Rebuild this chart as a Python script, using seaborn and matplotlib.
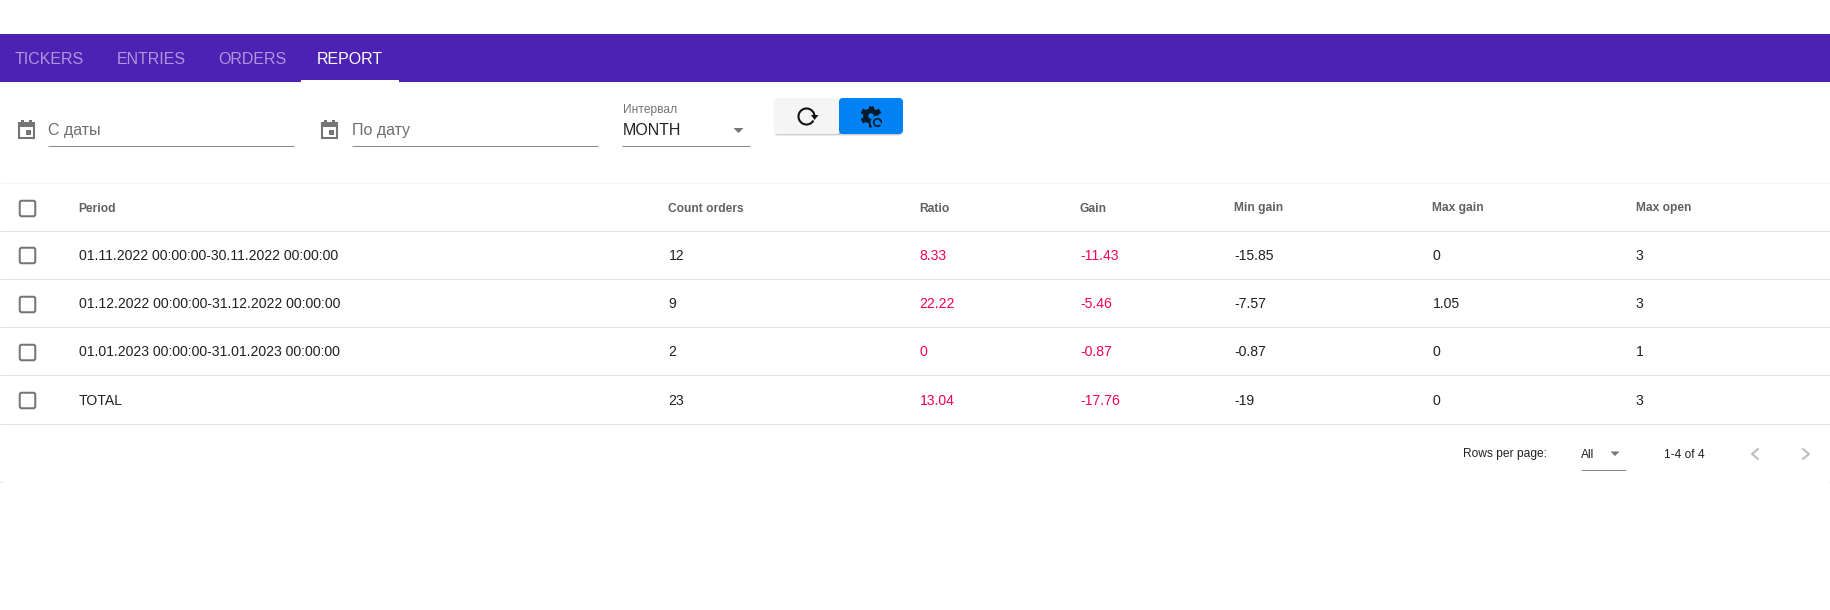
# Report page of the orders dashboard
import matplotlib
matplotlib.use('Agg')
import matplotlib.pyplot as plt
from matplotlib.patches import Rectangle, FancyBboxPatch, Arc, Circle, Polygon, BoxStyle
import numpy as np
import pandas as pd
import seaborn as sns

# Table content
tabs = ['TICKERS', 'ENTRIES', 'ORDERS', 'REPORT']
columns = ['Period', 'Count orders', 'Ratio', 'Gain', 'Min gain', 'Max gain', 'Max open']
period = ['01.11.2022 00:00:00-30.11.2022 00:00:00',
          '01.12.2022 00:00:00-31.12.2022 00:00:00',
          '01.01.2023 00:00:00-31.01.2023 00:00:00',
          'TOTAL']
count_orders = ['12', '9', '2', '23']
ratio = ['8.33', '22.22', '0', '13.04']
gain = ['-11.43', '-5.46', '-0.87', '-17.76']
min_gain = ['-15.85', '-7.57', '-0.87', '-19']
max_gain = ['0', '1.05', '0', '0']
max_open = ['3', '3', '1', '3']

# Layout in pixels
W, H = 1831, 610
tab_x = [15, 116.5, 218, 317]
col_x = [79, 668.5, 919.5, 1080, 1234, 1432.5, 1636]
head_y = 207
row_y0, row_h = 254.5, 48.25
PURPLE = '#4c21b3'
INK = '#212121'
RED = '#f50057'
GREY = '#757575'
LINE = '#e0e0e0'
BLUE = '#0082f4'
DARK = '#0a1a2a'

sns.set_theme(style='white')
plt.rcParams['font.family'] = ['Liberation Sans', 'DejaVu Sans']


def px(size):
    return size * 0.72


fig = plt.figure(figsize=(W / 100, H / 100), dpi=100)
ax = fig.add_axes([0, 0, 1, 1])
ax.set_xlim(0, W)
ax.set_ylim(H, 0)
ax.set_axis_off()


def label(x, y, s, size=14, color=INK, **kw):
    kw.setdefault('va', 'center_baseline')
    ax.text(x, y, s, fontsize=px(size), color=color, **kw)


def hline(x0, x1, y, color=LINE, lw=1.0):
    ax.plot([x0, x1], [y, y], color=color, lw=lw * 0.72, solid_capstyle='butt')


def calendar(x, y):
    ax.add_patch(Rectangle((x + 1, y + 3), 15.5, 15, fc='white', ec=GREY, lw=1.5))
    ax.add_patch(Rectangle((x + 1, y + 2), 15.5, 5, fc=GREY, ec='none'))
    ax.add_patch(Rectangle((x + 3.5, y), 2.5, 3, fc=GREY, ec='none'))
    ax.add_patch(Rectangle((x + 11.5, y), 2.5, 3, fc=GREY, ec='none'))
    ax.add_patch(Rectangle((x + 8, y + 10), 5.5, 5, fc=GREY, ec='none'))


# Top bar with tabs
ax.add_patch(Rectangle((0, 34), W, 48, fc=PURPLE, ec='none'))
for i, name in enumerate(tabs):
    col = 'white' if name == 'REPORT' else '#ad97de'
    label(tab_x[i], 58, name, size=16, color=col)
ax.add_patch(Rectangle((301, 80), 98, 2, fc='white', ec='none'))

# Filter fields
calendar(18, 120)
calendar(321, 120)
label(48, 129.5, 'С даты', size=16, color='#6f6f6f')
label(352, 129.5, 'По дату', size=16, color='#6f6f6f')
hline(48, 294.5, 146, color='#888888')
hline(352, 598.5, 146, color='#888888')
label(623, 108.5, 'Интервал', size=12, color='#757575')
label(623, 129, 'MONTH', size=16, color=INK)
hline(622.5, 750, 146, color='#888888')
ax.add_patch(Polygon([[733.5, 128], [743.5, 128], [738.5, 133]], fc=GREY, ec='none'))

# Buttons
for dy, a in [(3, 0.08), (2, 0.12), (1, 0.18)]:
    ax.add_patch(FancyBboxPatch((774.5, 100 + dy), 127.5, 33, boxstyle='round,pad=0,rounding_size=4',
                                fc='black', ec='none', alpha=a))
ax.add_patch(FancyBboxPatch((773.5, 98), 67, 36, boxstyle='round,pad=0,rounding_size=4',
                            fc='#f5f5f5', ec='none'))
ax.add_patch(FancyBboxPatch((839, 98), 64, 36, boxstyle='round,pad=0,rounding_size=4',
                            fc=BLUE, ec='none'))
ax.add_patch(Arc((806.5, 116.5), 16, 16, theta1=30, theta2=360, color='#111111', lw=1.5))
ax.add_patch(Polygon([[811, 115], [818.5, 115], [814.5, 120]], fc='#111111', ec='none'))

# Gear with a small refresh arrow
gx, gy = 871, 116
for a in np.deg2rad([30, 90, 150]):
    dx, dy = 10.5 * np.cos(a), 10.5 * np.sin(a)
    ax.plot([gx - dx, gx + dx], [gy - dy, gy + dy], color=DARK, lw=3.6, solid_capstyle='butt')
ax.add_patch(Circle((gx, gy), 7.8, fc=DARK, ec='none', zorder=2))
ax.add_patch(Circle((gx, gy), 2.8, fc=BLUE, ec='none', zorder=3))
ax.add_patch(Circle((877.5, 122.5), 7, fc=BLUE, ec='none', zorder=3))
ax.add_patch(Arc((877.5, 122.5), 7.5, 7.5, theta1=40, theta2=340, color=DARK, lw=1.2, zorder=4))
ax.add_patch(Polygon([[879, 120], [882.5, 120], [882.5, 123.5]], fc=DARK, ec='none', zorder=4))

# Table
hline(0, W, 183, color='#f4f4f4')
hline(0, W, 231)
for i, name in enumerate(columns):
    x = col_x[i] - 0.7 if name == 'Period' else col_x[i]
    label(x, head_y, name, size=12, color='#616161', weight='bold')

rows = pd.DataFrame({'Period': period, 'Count orders': count_orders, 'Ratio': ratio, 'Gain': gain,
                     'Min gain': min_gain, 'Max gain': max_gain, 'Max open': max_open})
rows['y'] = [row_y0 + row_h * i for i in rows.index]
rows['x'] = 27
for _, row in rows.iterrows():
    for i, name in enumerate(columns):
        col = RED if name in ('Ratio', 'Gain') else INK
        label(col_x[i], row['y'], row[name], size=14, color=col)
    hline(0, W, row['y'] + 24.4)

# Checkboxes, header one included
boxes = pd.concat([pd.DataFrame({'x': [27], 'y': [head_y]}), rows[['x', 'y']]])
boxes['y'] += 0.8
box_marker = BoxStyle.Round(pad=0, rounding_size=0.12)(-0.5, -0.5, 1, 1, 1)
sns.scatterplot(data=boxes, x='x', y='y', ax=ax, marker=box_marker, s=125, facecolor='white',
                edgecolor=GREY, linewidth=1.45, legend=False, zorder=3)
ax.set_xlim(0, W)
ax.set_ylim(H, 0)
ax.set_axis_off()

# Pagination
label(1463, 453, 'Rows per page:', size=12)
label(1581, 453, 'All', size=12)
ax.add_patch(Polygon([[1610.5, 451.5], [1619.5, 451.5], [1615, 456]], fc=GREY, ec='none'))
hline(1581, 1626, 470, color='#888888')
label(1664, 453, '1-4 of 4', size=12)
ax.plot([1758, 1752, 1758], [449, 454, 459], color='#bdbdbd', lw=1.5)
ax.plot([1803, 1809, 1803], [449, 454, 459], color='#bdbdbd', lw=1.5)
hline(0, 2, 482, color='#dddddd')
hline(W - 2, W, 482, color='#dddddd')

fig.savefig('out.png', dpi=100)
